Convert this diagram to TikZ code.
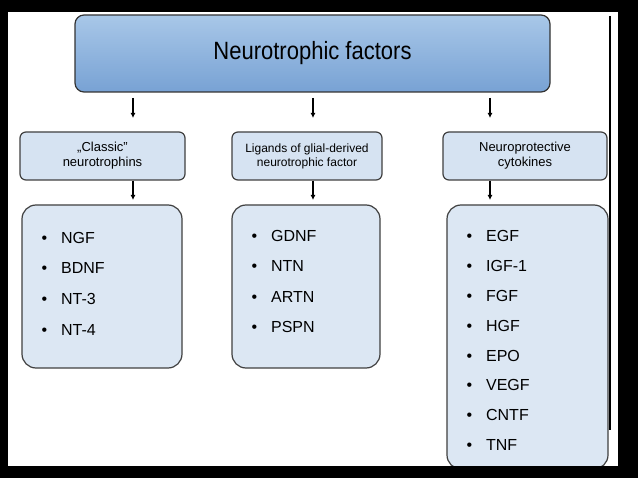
\documentclass[tikz,border=0pt]{standalone}
\usepackage{fontspec}
\setmainfont{Liberation Sans}
\usetikzlibrary{arrows.meta}
\definecolor{tt}{RGB}{168,199,232}
\definecolor{tb}{RGB}{120,162,212}
\definecolor{mf}{RGB}{214,227,242}
\definecolor{lf}{RGB}{220,231,243}
\begin{document}
\begin{tikzpicture}[x=1pt,y=-1pt,
  top/.style={draw=black!80,line width=1.2pt,rounded corners=9pt,top color=tt,bottom color=tb},
  mid/.style={draw=black!75,line width=1.2pt,rounded corners=6pt,fill=mf,align=center,font=\fontsize{13}{15}\selectfont},
  lst/.style={draw=black!75,line width=1.2pt,rounded corners=14pt,fill=lf},
  arr/.style={-{Latex[length=5pt,width=5pt]},line width=1.5pt,black},
  it/.style={anchor=west,font=\fontsize{16}{18}\selectfont}]
\useasboundingbox (0,0) rectangle (638,478);
\fill[black] (0,0) rectangle (638,478);
\fill[white] (8,12) rectangle (618,466);
\draw[black,line width=1.2pt] (610,16) -- (610,430);
\node[top,minimum width=475pt,minimum height=77pt,font=\fontsize{25}{28}\selectfont] (nf) at (312.5,53.5) {\scalebox{0.88}[1]{Neurotrophic factors}};
\node[mid,minimum width=165pt,minimum height=48pt] (c1) at (102.5,156) {„Classic"\\neurotrophins};
\node[mid,minimum width=150pt,minimum height=48pt,font=\fontsize{12}{14}\selectfont] (c2) at (307,156) {Ligands of glial-derived\\neurotrophic factor};
\node[mid,minimum width=164pt,minimum height=48pt] (c3) at (525,156) {Neuroprotective\\cytokines};
\node[lst,minimum width=160pt,minimum height=163pt] (l1) at (102,286.5) {};
\node[lst,minimum width=148pt,minimum height=163pt] (l2) at (306,286.5) {};
\begin{scope}
\clip (8,12) rectangle (618,466);
\node[lst,minimum width=161pt,minimum height=264pt] (l3) at (527.5,337) {};
\end{scope}
\coordinate (a1) at (133,98); \coordinate (b1) at (133,118);
\coordinate (a2) at (313,98); \coordinate (b2) at (313,118);
\coordinate (a3) at (490,98); \coordinate (b3) at (490,118);
\draw[arr] (a1) -- (b1); \draw[arr] (a2) -- (b2); \draw[arr] (a3) -- (b3);
\coordinate (d1) at (133,200); \coordinate (d2) at (313,200); \coordinate (d3) at (490,200);
\draw[arr] (d1 |- c1.south) -- (d1);
\draw[arr] (d2 |- c2.south) -- (d2);
\draw[arr] (d3 |- c3.south) -- (d3);
\foreach \t [count=\i] in {NGF,BDNF,NT-3,NT-4}
  \node[it] (p\i) at (38,207+\i*30.7) {\textbullet\hspace{14pt}\t};
\foreach \t [count=\i] in {GDNF,NTN,ARTN,PSPN}
  \node[it] (q\i) at (248,205+\i*30.5) {\textbullet\hspace{14pt}\t};
\foreach \t [count=\i] in {EGF,IGF-1,FGF,HGF,EPO,VEGF,CNTF,TNF}
  \node[it] (r\i) at (463,206+\i*29.9) {\textbullet\hspace{14pt}\t};
\end{tikzpicture}
\end{document}
